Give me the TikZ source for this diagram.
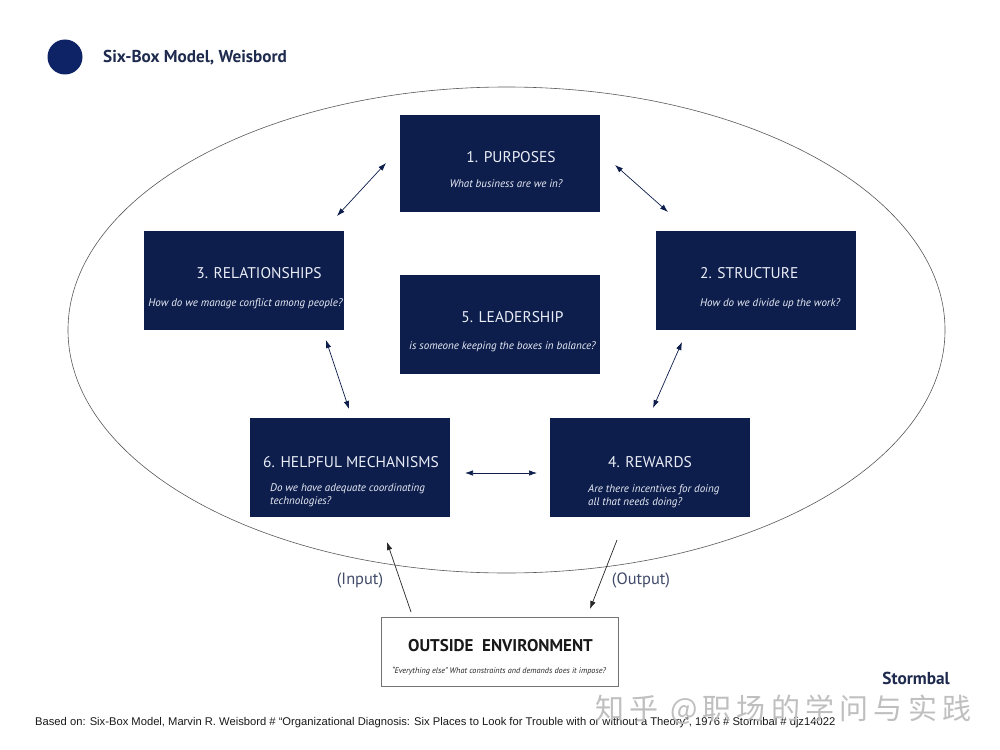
\documentclass[tikz,border=0pt]{standalone}
\usepackage{fontspec}
\setmainfont{PT Sans}
\newfontfamily\helv{Liberation Sans}
\newfontfamily\cjk[LetterSpace=18]{Noto Sans CJK SC}
\usetikzlibrary{arrows.meta,shapes.geometric}
\definecolor{navy}{HTML}{0E1E4C}
\definecolor{dotnavy}{HTML}{0D2366}
\definecolor{titlenavy}{HTML}{1F2B4E}
\definecolor{boxtext}{HTML}{E9EDF6}
\tikzset{
  bigbox/.style={fill=navy, draw=none, minimum width=200pt, minimum height=98pt, inner sep=0pt},
  boxtitle/.style={text=boxtext, font=\fontsize{15.5}{17}\selectfont, inner sep=0pt},
  boxsub/.style={text=boxtext, font=\itshape\fontsize{11}{13}\selectfont, inner sep=0pt, align=left},
  link/.style={draw=navy, line width=0.7pt, {Latex[length=8pt,width=5.5pt]}-{Latex[length=8pt,width=5.5pt]}},
  flow/.style={draw=black!85, line width=0.7pt, -{Latex[length=8pt,width=5.5pt]}},
  lbl/.style={text=titlenavy!85, font=\fontsize{16.4}{18}\selectfont, inner sep=0pt}
}
\begin{document}
\begin{tikzpicture}[x=1pt,y=-1pt]
\useasboundingbox (0,0) rectangle (1000,749);
\fill[white] (0,0) rectangle (1000,749);
% title
\node[circle, fill=dotnavy, minimum size=35pt, inner sep=0pt] (dot) at (65,57) {};
\node[anchor=west, inner sep=0pt, text=titlenavy, font=\bfseries\fontsize{17.2}{19}\selectfont] (title) at (103,58) {Six-Box Model, Weisbord};
% ellipse
\node[ellipse, draw=black!65, line width=0.6pt, minimum width=877pt, minimum height=486pt, inner sep=0pt] (env) at (506.5,330) {};
% boxes
\node[bigbox, minimum height=97pt] (b1) at (500,163.5) {};
\node[boxtitle] (t1) at (511,157) {1. PURPOSES};
\node[boxsub] (s1) at (506,184) {What business are we in?};

\node[bigbox, minimum height=99pt] (b2) at (756,280.5) {};
\node[boxtitle, anchor=west] (t2) at (700,273) {2. STRUCTURE};
\node[boxsub, anchor=west] (s2) at (700,304) {How do we divide up the work?};

\node[bigbox, minimum height=99pt] (b3) at (244,280.5) {};
\node[boxtitle] (t3) at (259,273) {3. RELATIONSHIPS};
\node[boxsub] (s3) at (245.5,304) {How do we manage conflict among people?};

\node[bigbox, minimum height=99pt] (b5) at (500,324.5) {};
\node[boxtitle] (t5) at (512.5,317) {5. LEADERSHIP};
\node[boxsub] (s5) at (502.5,347) {is someone keeping the boxes in balance?};

\node[bigbox, minimum height=99pt] (b6) at (350,467.5) {};
\node[boxtitle] (t6) at (351,462) {6. HELPFUL MECHANISMS};
\node[boxsub, anchor=north west] (s6) at (270,484) {Do we have adequate coordinating\\technologies?};

\node[bigbox, minimum height=99pt] (b4) at (650,467.5) {};
\node[boxtitle] (t4) at (650,462) {4. REWARDS};
\node[boxsub, anchor=north west] (s4) at (588,484) {Are there incentives for doing\\all that needs doing?};

% outside environment
\node[draw=black!55, line width=0.8pt, fill=white, minimum width=237pt, minimum height=69pt, inner sep=0pt] (oe) at (499.5,651.5) {};
\node[inner sep=0pt, font=\bfseries\fontsize{17}{19}\selectfont, text=black!90] (oet) at (500.5,646) {OUTSIDE\ \ ENVIRONMENT};
\node[inner sep=0pt, font=\itshape\fontsize{8.2}{10}\selectfont, text=black!85] (oes) at (499,671) {“Everything else” What constraints and demands does it impose?};

% arrow end points
\coordinate (a13a) at (386,163); \coordinate (a13b) at (337,216);
\coordinate (a12a) at (615,165); \coordinate (a12b) at (668,212);
\coordinate (a36a) at (326,340); \coordinate (a36b) at (349,409);
\coordinate (a24a) at (682,342); \coordinate (a24b) at (653,408);
\coordinate (a64a) at (465,473); \coordinate (a64b) at (537,473);
\coordinate (ina) at (411,612); \coordinate (inb) at (387,542);
\coordinate (outa) at (617,540); \coordinate (outb) at (590,609);

\draw[link] (a13a) -- (a13b);
\draw[link] (a12a) -- (a12b);
\draw[link] (a36a) -- (a36b);
\draw[link] (a24a) -- (a24b);
\draw[link] (a64a) -- (a64b);
\draw[flow] (ina) -- (inb);
\draw[flow] (outa) -- (outb);

\node[lbl] (inl) at (360,580) {(Input)};
\node[lbl] (outl) at (641,580) {(Output)};

% footer
\node[anchor=east, inner sep=0pt, text=titlenavy, font=\bfseries\fontsize{17.3}{19}\selectfont] (brand) at (950,678) {Stormbal};
\node[anchor=west, inner sep=0pt, text=black!90, font=\helv\fontsize{11.2}{13}\selectfont] (cite) at (35,723) {Based on: Six-Box Model, Marvin R. Weisbord \# “Organizational Diagnosis: Six Places to Look for Trouble with or without a Theory”, 1976 \# Stormbal \# djz14022};
\node[anchor=west, inner sep=0pt, text=black!25, font=\cjk\fontsize{29}{31}\selectfont] (wm) at (595,710) {知乎 @职场的学问与实践};
\end{tikzpicture}
\end{document}
